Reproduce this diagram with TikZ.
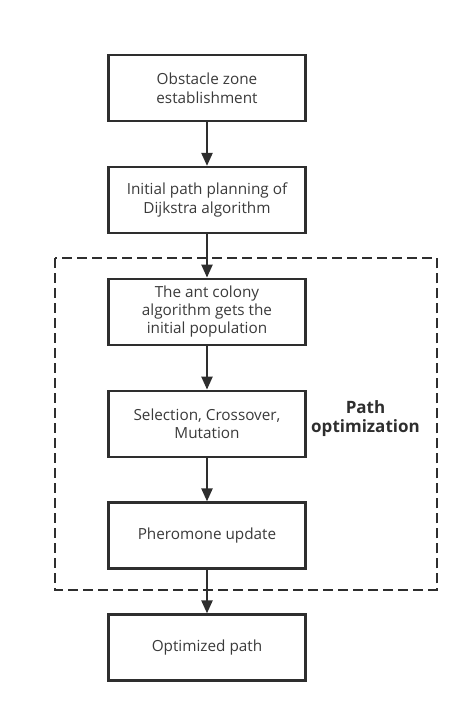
\documentclass[tikz,border=0pt]{standalone}
\usepackage{fontspec}
\setmainfont{Open Sans}
\usetikzlibrary{arrows.meta}
\definecolor{ink}{HTML}{2E2E2E}
\definecolor{txt}{HTML}{3A3A3A}
\begin{document}
\begin{tikzpicture}[x=1pt,y=-1pt,
  stepbox/.style={draw=ink,line width=2.2pt,minimum width=197pt,minimum height=66pt,
    align=center,text=txt,font=\fontsize{15.3}{18.3}\selectfont,inner sep=0pt},
  flow/.style={draw=ink,line width=2.2pt,-{Triangle[length=13pt,width=11pt]}},
  group/.style={draw=ink,line width=2pt,dash pattern=on 10pt off 5pt}]
\useasboundingbox (0,0) rectangle (474,718);
\node[stepbox] (b1) at (207,88.3) {Obstacle zone\\establishment};
\node[stepbox] (b2) at (207,200) {Initial path planning of\\Dijkstra algorithm};
\node[stepbox] (b3) at (207,311.7) {The ant colony\\algorithm gets the\\initial population};
\node[stepbox] (b4) at (207,423.7) {Selection, Crossover,\\Mutation};
\node[stepbox] (b5) at (207,535.5) {Pheromone update};
\node[stepbox] (b6) at (207,647.5) {Optimized path};
\coordinate (gtl) at (55,258.3);
\coordinate (gbr) at (436.7,590);
\draw[group] (gtl) rectangle (gbr);
\node[text=ink,font=\fontsize{17}{19.5}\selectfont\bfseries,align=center] (lbl) at (365.5,418.5) {Path\\optimization};
\draw[flow] (b1) -- (b2);
\draw[flow] (b2) -- (b3);
\draw[flow] (b3) -- (b4);
\draw[flow] (b4) -- (b5);
\draw[flow] (b5) -- (b6);
\end{tikzpicture}
\end{document}
